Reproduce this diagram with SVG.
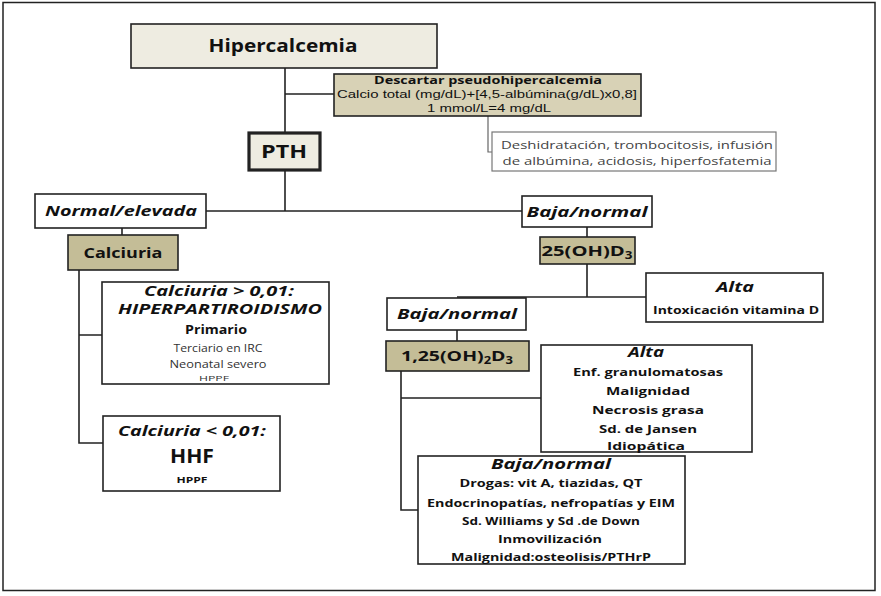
<svg xmlns="http://www.w3.org/2000/svg" width="881" height="596" viewBox="0 0 881 596">
<style>
.box{fill:#fff;stroke:#222;stroke-width:1.6}
.lt{fill:#eeece1;stroke:#222;stroke-width:1.6}
.dk{fill:#c4bd97;stroke:#222;stroke-width:1.6}
.ln{stroke:#222;stroke-width:1.6;fill:none}
.gl{stroke:#666;stroke-width:1.2;fill:none}
text{font-family:"Open Sans",Lato,"DejaVu Sans",sans-serif;fill:#111;text-anchor:middle}
.bi{font-weight:bold;font-style:italic;font-size:15px}
.b{font-weight:bold}
.ar{font-family:"Liberation Sans",Arial,sans-serif}
</style>
<rect x="3" y="2.5" width="872" height="588" fill="#fff" stroke="#222" stroke-width="1.5"/>
<g id="connectors">
<path class="ln" d="M285,68 V133 M285,94 H334 M285,170 V211 M206,211 H522"/>
<path class="gl" d="M488,116 V152 H492"/>
<path class="ln" d="M122,228 V235 M79,270 V443 H103 M79,335 H102"/>
<path class="ln" d="M587,227 V237 M587,264 V297 M457,297 H646 M457,330 V341 M401,371 V510 H418 M401,398 H541"/>
</g>
<g id="hipercalcemia"><rect class="lt" x="131" y="24" width="306" height="44"/><text class="b" x="283" y="52" font-size="17.5" textLength="149" lengthAdjust="spacingAndGlyphs">Hipercalcemia</text></g>
<g id="descartar"><rect class="lt" x="334" y="74" width="307" height="42" style="fill:#d8d2b6"/>
<text class="b" x="488" y="84" font-size="10.5" textLength="228" lengthAdjust="spacingAndGlyphs">Descartar pseudohipercalcemia</text>
<text class="ar" x="487" y="98" font-size="11" textLength="300" lengthAdjust="spacingAndGlyphs">Calcio total (mg/dL)+[4,5-albúmina(g/dL)x0,8]</text>
<text class="ar" x="489" y="112" font-size="11" textLength="124" lengthAdjust="spacingAndGlyphs">1 mmol/L=4 mg/dL</text></g>
<g id="pseudo-causas"><rect x="492" y="132" width="284" height="39" fill="#fff" stroke="#777" stroke-width="1.2"/>
<text x="637" y="149" font-size="11.5" style="fill:#444" textLength="272" lengthAdjust="spacingAndGlyphs">Deshidratación, trombocitosis, infusión</text>
<text x="637" y="165" font-size="11.5" style="fill:#444" textLength="269" lengthAdjust="spacingAndGlyphs">de albúmina, acidosis, hiperfosfatemia</text></g>
<g id="pth"><rect class="lt" x="249" y="133" width="71" height="37" style="stroke-width:3.2"/><text class="b" x="284" y="158" font-size="18" textLength="46" lengthAdjust="spacingAndGlyphs">PTH</text></g>
<g id="normal-elevada"><rect class="box" x="35" y="194" width="171" height="34"/><text class="bi" x="121" y="216" textLength="152" lengthAdjust="spacingAndGlyphs">Normal/elevada</text></g>
<g id="calciuria"><rect class="dk" x="68" y="235" width="110" height="35"/><text class="b" x="123" y="258" font-size="15" textLength="79" lengthAdjust="spacingAndGlyphs">Calciuria</text></g>
<g id="hiperpara"><rect class="box" x="102" y="282" width="227" height="102"/>
<text class="bi" x="219" y="296" font-size="14.5" textLength="150" lengthAdjust="spacingAndGlyphs">Calciuria &gt; 0,01:</text>
<text class="bi" x="220" y="314" font-size="14.5" textLength="204" lengthAdjust="spacingAndGlyphs">HIPERPARTIROIDISMO</text>
<text class="b" x="216" y="334" font-size="11.5" textLength="62" lengthAdjust="spacingAndGlyphs">Primario</text>
<text x="218" y="352" font-size="11.5" style="fill:#333" textLength="89" lengthAdjust="spacingAndGlyphs">Terciario en IRC</text>
<text x="218" y="368" font-size="11.5" style="fill:#333" textLength="97" lengthAdjust="spacingAndGlyphs">Neonatal severo</text>
<text x="214" y="380.5" font-size="7.5" style="fill:#333" textLength="30" lengthAdjust="spacingAndGlyphs">HPPF</text></g>
<g id="hhf"><rect class="box" x="103" y="416" width="177" height="75"/>
<text class="bi" x="192" y="436" textLength="148" lengthAdjust="spacingAndGlyphs">Calciuria  &lt; 0,01:</text>
<text class="b" x="192" y="463" font-size="19" textLength="44" lengthAdjust="spacingAndGlyphs">HHF</text>
<text class="b" x="192" y="483" font-size="8" textLength="31" lengthAdjust="spacingAndGlyphs">HPPF</text></g>
<g id="baja-normal-1"><rect class="box" x="522" y="196" width="130" height="31"/><text class="bi" x="587" y="217" textLength="121" lengthAdjust="spacingAndGlyphs">Baja/normal</text></g>
<g id="vitd25"><rect class="dk" x="540" y="237" width="95" height="27"/><text class="b" x="587" y="256" font-size="15" textLength="91" lengthAdjust="spacingAndGlyphs">25(OH)D<tspan font-size="10" dy="3">3</tspan></text></g>
<g id="alta-1"><rect class="box" x="646" y="273" width="177" height="49"/>
<text class="bi" x="735" y="292" textLength="38" lengthAdjust="spacingAndGlyphs">Alta</text>
<text class="b" x="736" y="314" font-size="11" textLength="166" lengthAdjust="spacingAndGlyphs">Intoxicación vitamina D</text></g>
<g id="baja-normal-2"><rect class="box" x="387" y="298" width="139" height="32"/><text class="bi" x="457" y="319" textLength="120" lengthAdjust="spacingAndGlyphs">Baja/normal</text></g>
<g id="vitd125"><rect class="dk" x="386" y="341" width="143" height="30"/><text class="b" x="457" y="361" font-size="15" textLength="112" lengthAdjust="spacingAndGlyphs">1,25(OH)<tspan font-size="10" dy="3">2</tspan><tspan dy="-3">D</tspan><tspan font-size="10" dy="3">3</tspan></text></g>
<g id="alta-2"><rect class="box" x="541" y="345" width="211" height="107"/>
<text class="bi" x="646" y="357" textLength="36" lengthAdjust="spacingAndGlyphs">Alta</text>
<text class="b" x="648" y="376" font-size="11" textLength="150" lengthAdjust="spacingAndGlyphs">Enf. granulomatosas</text>
<text class="b" x="648" y="395" font-size="11" textLength="84" lengthAdjust="spacingAndGlyphs">Malignidad</text>
<text class="b" x="648" y="414" font-size="11" textLength="112" lengthAdjust="spacingAndGlyphs">Necrosis grasa</text>
<text class="b" x="648" y="433" font-size="11" textLength="98" lengthAdjust="spacingAndGlyphs">Sd. de Jansen</text>
<text class="b" x="646" y="450" font-size="11" textLength="78" lengthAdjust="spacingAndGlyphs">Idiopática</text></g>
<g id="baja-normal-3"><rect class="box" x="418" y="456" width="267" height="108"/>
<text class="bi" x="551" y="469" textLength="120" lengthAdjust="spacingAndGlyphs">Baja/normal</text>
<text class="b" x="551" y="487" font-size="11" textLength="183" lengthAdjust="spacingAndGlyphs">Drogas: vit A, tiazidas, QT</text>
<text class="b" x="551" y="507" font-size="11" textLength="248" lengthAdjust="spacingAndGlyphs">Endocrinopatías, nefropatías y EIM</text>
<text class="b" x="551" y="525" font-size="11" textLength="178" lengthAdjust="spacingAndGlyphs">Sd. Williams y Sd .de Down</text>
<text class="b" x="550" y="543" font-size="11" textLength="104" lengthAdjust="spacingAndGlyphs">Inmovilización</text>
<text class="b" x="551" y="561" font-size="11" textLength="200" lengthAdjust="spacingAndGlyphs">Malignidad:osteolisis/PTHrP</text></g>
</svg>
